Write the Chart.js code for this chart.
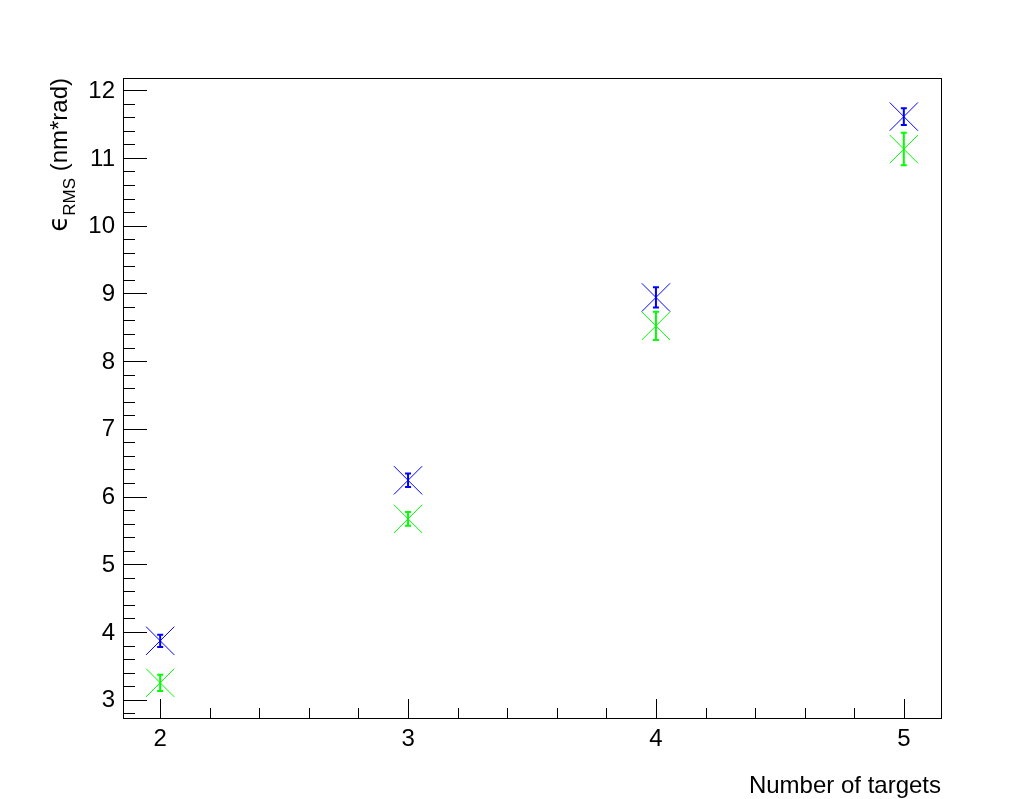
<!DOCTYPE html>
<html><head><meta charset="utf-8">
<script src="https://cdn.jsdelivr.net/npm/chart.js@4"></script>
<style>html,body{margin:0;padding:0;background:#fff}#w{width:1024px;height:799px}</style>
</head><body><div id="w"><canvas id="c"></canvas></div>
<script>
const targets = [2, 3, 4, 5];
const blueVals = [3.87, 6.24, 8.94, 11.61];
const blueErr = [0.09, 0.10, 0.15, 0.125];
const greenVals = [3.25, 5.67, 8.52, 11.13];
const greenErr = [0.12, 0.10, 0.21, 0.24];
const yTickLabels = [3,4,5,6,7,8,9,10,11,12];
const xTickLabels = [2,3,4,5];
const xTitle = 'Number of targets';
const FONT = '"Liberation Sans", Arial, sans-serif';

function pts(v){return targets.map((x,i)=>({x:x,y:v[i]}));}

const deco = {
  id:'deco',
  afterDatasetsDraw(chart){
    const {ctx, chartArea:a, scales:{x,y}} = chart;
    ctx.save();
    // error bars
    const sets=[[blueVals,blueErr,'#0000ff'],[greenVals,greenErr,'#00ff00']];
    sets.forEach(([v,e,col])=>{
      ctx.strokeStyle=col;ctx.lineWidth=2;
      targets.forEach((t,i)=>{
        const px=x.getPixelForValue(t), p1=y.getPixelForValue(v[i]-e[i]), p2=y.getPixelForValue(v[i]+e[i]);
        ctx.beginPath();ctx.moveTo(px,p1);ctx.lineTo(px,p2);
        ctx.moveTo(px-3,p1);ctx.lineTo(px+3,p1);ctx.moveTo(px-3,p2);ctx.lineTo(px+3,p2);ctx.stroke();
      });
    });
    // frame
    ctx.strokeStyle='#000';ctx.lineWidth=1;
    ctx.strokeRect(a.left+0.5,a.top+0.5,a.right-a.left,a.bottom-a.top);
    // y ticks
    ctx.beginPath();
    for(let k=Math.ceil(y.min*5);k<=Math.floor(y.max*5);k++){
      const v=k/5, py=Math.round(y.getPixelForValue(v))+0.5;
      const len=(k%5===0)?24:12;
      ctx.moveTo(a.left,py);ctx.lineTo(a.left+len,py);
    }
    // x ticks
    for(let k=Math.ceil(x.min*5);k<=Math.floor(x.max*5);k++){
      const v=k/5, px=Math.round(x.getPixelForValue(v))+0.5;
      const len=(k%5===0)?19:10;
      ctx.moveTo(px,a.bottom);ctx.lineTo(px,a.bottom-len);
    }
    ctx.stroke();
    // labels
    ctx.fillStyle='#000';ctx.font='24px '+FONT;
    ctx.textAlign='right';ctx.textBaseline='middle';
    yTickLabels.forEach(v=>ctx.fillText(String(v),a.left-8,y.getPixelForValue(v)+1));
    ctx.textAlign='center';ctx.textBaseline='top';
    xTickLabels.forEach(v=>ctx.fillText(String(v),x.getPixelForValue(v),a.bottom+9));
    ctx.textAlign='right';ctx.textBaseline='alphabetic';
    ctx.fillText(xTitle,a.right,793);
    // y title
    ctx.translate(67,a.top);ctx.rotate(-Math.PI/2);
    ctx.textAlign='left';
    const t1='(nm*rad)';ctx.font='24px '+FONT;const w1=ctx.measureText(' '+t1).width;
    ctx.font='17px '+FONT;const ws=ctx.measureText('RMS').width;
    ctx.font='26px "DejaVu Sans", sans-serif';const we=ctx.measureText('ϵ').width;
    let sx=-(we+ws+w1);
    ctx.fillText('ϵ',sx,0);sx+=we;
    ctx.font='17px '+FONT;ctx.fillText('RMS',sx,8);sx+=ws;
    ctx.font='24px '+FONT;ctx.fillText(' '+t1,sx,0);
    ctx.restore();
  }
};

new Chart(document.getElementById('c'),{
  type:'scatter',
  data:{datasets:[
    {data:pts(blueVals),pointStyle:'crossRot',pointRadius:20,pointHoverRadius:20,borderColor:'#0000ff',backgroundColor:'#0000ff',pointBorderWidth:1},
    {data:pts(greenVals),pointStyle:'crossRot',pointRadius:20,pointHoverRadius:20,borderColor:'#00ff00',backgroundColor:'#00ff00',pointBorderWidth:1}
  ]},
  options:{
    responsive:true,maintainAspectRatio:false,animation:false,
    layout:{padding:{left:0,top:78,right:83,bottom:0}},
    plugins:{legend:{display:false},tooltip:{enabled:false}},
    scales:{
      x:{type:'linear',min:1.85,max:5.15,grid:{display:false},border:{display:false},ticks:{display:false},
         afterFit(s){s.height=81;}},
      y:{type:'linear',min:2.73,max:12.18,grid:{display:false},border:{display:false},ticks:{display:false},
         afterFit(s){s.width=123;}}
    }
  },
  plugins:[deco]
});
</script></body></html>
